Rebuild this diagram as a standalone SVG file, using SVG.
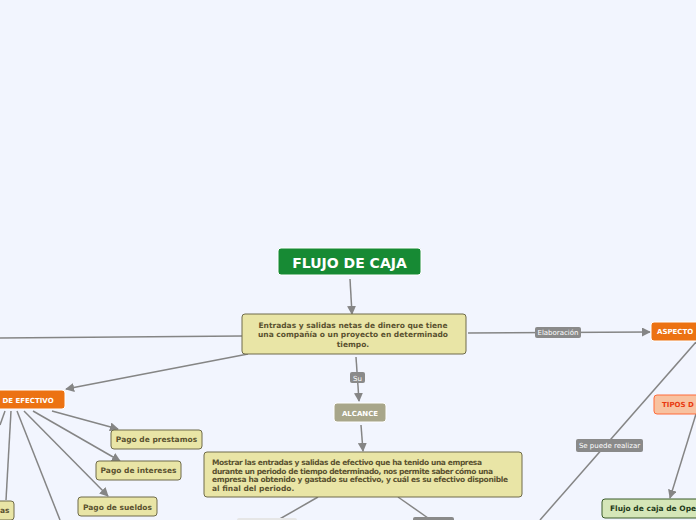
<svg xmlns="http://www.w3.org/2000/svg" width="696" height="520" viewBox="0 0 696 520">
<style>
.c{stroke:#858585;stroke-width:1.5;fill:none}
.y{fill:#e9e5a6;stroke:#6f6b4a;stroke-width:1}
.t{font-family:Verdana,"DejaVu Sans",sans-serif;font-weight:bold;fill:#5a5230;font-size:7.5px}
.w{font-family:Verdana,"DejaVu Sans",sans-serif;font-weight:bold;fill:#fff;font-size:7px}
.l{fill:#8a8a8a}
.lt{font-family:Verdana,"DejaVu Sans",sans-serif;fill:#fff;font-size:7px}
</style>
<defs><marker id="a" viewBox="0 0 10 10" refX="9" refY="5" markerWidth="6" markerHeight="6" orient="auto"><path d="M0,0 L10,5 L0,10z" fill="#858585"/></marker></defs>
<rect width="696" height="520" fill="#f2f5fe"/>
<g id="connectors">
<path class="c" d="M350,279 L352,314" marker-end="url(#a)"/>
<path class="c" d="M242,336 L0,338"/>
<path class="c" d="M248,354 L66,389" marker-end="url(#a)"/>
<path class="c" d="M356,357 L359,401" marker-end="url(#a)"/>
<path class="c" d="M361,425 L363,451" marker-end="url(#a)"/>
<path class="c" d="M468,333 L650,332" marker-end="url(#a)"/>
<path class="c" d="M696,342 L540,520"/>
<path class="c" d="M696,414 L670,498" marker-end="url(#a)"/>
<path class="c" d="M52,411 L118,429" marker-end="url(#a)"/>
<path class="c" d="M33,411 L120,461" marker-end="url(#a)"/>
<path class="c" d="M24,411 L108,496" marker-end="url(#a)"/>
<path class="c" d="M17,411 L60,520"/>
<path class="c" d="M11,411 L6,500"/>
<path class="c" d="M5,411 L0,425"/>
<path class="c" d="M318,497 L278,520"/>
<path class="c" d="M398,497 L428,518"/>
</g>
<g id="title"><rect x="278" y="248" width="143" height="27" rx="3" fill="#178a34" stroke="#fff"/><text x="349.5" y="268" text-anchor="middle" font-family="Verdana,'DejaVu Sans',sans-serif" font-weight="bold" font-size="14" fill="#fff">FLUJO DE CAJA</text></g>
<g id="main"><rect class="y" x="242" y="314" width="224" height="40" rx="3"/><text class="t" font-size="8" text-anchor="middle"><tspan x="353" y="328">Entradas y salidas netas de dinero que tiene</tspan><tspan x="353" y="337">una compañía o un proyecto en determinado</tspan><tspan x="353" y="347">tiempo.</tspan></text></g>
<g id="su"><rect class="l" x="350" y="372" width="15" height="11" rx="2"/><text class="lt" x="357.5" y="380.5" text-anchor="middle">Su</text></g>
<g id="alcance"><rect x="334" y="403" width="52" height="19" rx="3" fill="#a8a68a" stroke="#fff"/><text class="w" x="360" y="415.5" text-anchor="middle">ALCANCE</text></g>
<g id="mostrar"><rect class="y" x="204" y="452" width="318" height="45" rx="3"/><text class="t" font-size="6.8"><tspan x="212" y="465" textLength="270">Mostrar las entradas y salidas de efectivo que ha tenido una empresa</tspan><tspan x="212" y="473.5" textLength="281">durante un periodo de tiempo determinado, nos permite saber cómo una</tspan><tspan x="212" y="482" textLength="296">empresa ha obtenido y gastado su efectivo, y cuál es su efectivo disponible</tspan><tspan x="212" y="490.5">al final del periodo.</tspan></text></g>
<g id="elab"><rect class="l" x="535" y="327" width="46" height="11" rx="2"/><text class="lt" x="558" y="335" text-anchor="middle">Elaboración</text></g>
<g id="aspecto"><rect x="651" y="322" width="50" height="19" rx="3" fill="#ec7212" stroke="#fff"/><text class="w" x="657" y="334">ASPECTO</text></g>
<g id="tipos"><rect x="654" y="395" width="50" height="19" rx="3" fill="#f8c2a0" stroke="#ff6b3a"/><text class="w" x="662" y="407" style="fill:#e83a10">TIPOS D</text></g>
<g id="sepuede"><rect class="l" x="576" y="439" width="67" height="13" rx="2"/><text class="lt" x="609.5" y="448" text-anchor="middle">Se puede realizar</text></g>
<g id="flujoop"><rect x="602" y="499" width="100" height="19" rx="3" fill="#d5e6b8" stroke="#3a5a2a"/><text class="t" x="610" y="511" style="fill:#1e3a1a">Flujo de caja de Opera</text></g>
<g id="efectivo"><rect x="-40" y="390" width="105" height="19" rx="3" fill="#ec7212" stroke="#fff"/><text class="w" x="-5" y="402.5">S DE EFECTIVO</text></g>
<g id="prestamos"><rect class="y" x="111" y="430" width="91" height="19" rx="3"/><text class="t" x="156.5" y="442" text-anchor="middle">Pago de prestamos</text></g>
<g id="intereses"><rect class="y" x="96" y="461" width="85" height="19" rx="3"/><text class="t" x="138.5" y="473" text-anchor="middle">Pago de intereses</text></g>
<g id="sueldos"><rect class="y" x="78" y="497" width="79" height="19" rx="3"/><text class="t" x="117.5" y="509.5" text-anchor="middle">Pago de sueldos</text></g>
<g id="as"><rect class="y" x="-30" y="501" width="44" height="19" rx="3"/><text class="t" x="0" y="513">as</text></g>
<g id="b1"><rect x="237" y="518" width="60" height="10" rx="2" fill="#e6e6e6"/></g>
<g id="b2"><rect x="413" y="517" width="41" height="10" rx="2" fill="#8a8a8a"/></g>
</svg>
